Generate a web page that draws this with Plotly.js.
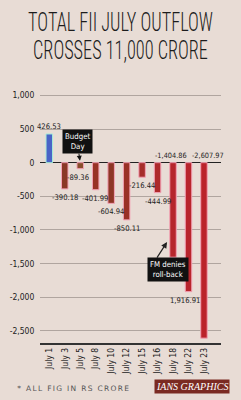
<!DOCTYPE html>
<html><head><meta charset="utf-8">
<script src="https://cdn.plot.ly/plotly-3.0.1.min.js"></script>
<style>html,body{margin:0;padding:0;background:#e8dcd5;}#chart{width:241px;height:400px;}
.main-svg text{font-stretch:condensed;}</style>
</head><body><div id="chart"></div>
<script>
const dates = ["July 1","July 3","July 5","July 8","July 10","July 12","July 15","July 16","July 18","July 22","July 23"];
const outflow = [426.53,-390.18,-89.36,-401.99,-604.94,-850.11,-216.44,-444.99,-1404.86,-1916.91,-2607.97];
const valueLabels = ["426.53","-390.18","-89.36","-401.99","-604.94","-850.11","-216.44","-444.99","-1,404.86","1,916.91","-2,607.97"];
const yTickVals = [1000,500,0,-500,-1000,-1500,-2000,-2500];
const yTickText = ["1,000","500","0","-500","-1,000","-1,500","-2,000","-2,500"];

// styling (not data)
const barColors = ["#4a63c6","#8a3826","#8a4e2c","#983226","#8e3626","#9a3127","#a62e2b","#ae2a2c","#b6262c","#b8252c","#bb232b"];
const lineColors = ["#a6ecd8","#f3a3b6","#f3a3b6","#f3a3b6","#f3a3b6","#f3a3b6","#f3a3b6","#f3a3b6","#f3a3b6","#f3a3b6","#f3a3b6"];
const labelPlace = ["end","end","end","end","end","end","end","end","top","end","top"];
const labelXShift = [0,0,-2,-1,0,0,0,0,-2,-4,4];

const narrow = "DejaVu Sans Condensed, DejaVu Sans, sans-serif";

const annotations = dates.map((d,i)=>{
  const v = outflow[i];
  if (labelPlace[i] === "top") {
    return {x:d, y:0, xref:'x', yref:'y', text:valueLabels[i], showarrow:false,
      yanchor:'bottom', yshift:1, xshift:labelXShift[i], font:{family:narrow,size:7.3,color:'#222'}};
  }
  return {x:d, y:v, xref:'x', yref:'y', text:valueLabels[i], showarrow:false,
    yanchor: v>=0 ? 'bottom':'top', yshift: v>=0 ? 1 : -2, xshift:labelXShift[i],
    font:{family:narrow,size:7.6,color:'#222'}};
});

annotations.push({x:dates[2], y:0, xref:'x', yref:'y', text:"Budget<br>Day", showarrow:true,
  arrowhead:2, arrowsize:1, arrowwidth:1, arrowcolor:'#111', ax:-3, ay:-21, standoff:2,
  bgcolor:'#111', borderpad:2, font:{family:narrow,size:7.8,color:'#fff'}});
annotations.push({x:dates[8], y:-1180, xref:'x', yref:'y', text:"", showarrow:true,
  arrowhead:2, arrowsize:1, arrowwidth:1.2, arrowcolor:'#222', ax:-11, ay:17, xshift:-6});
annotations.push({x:dates[8], y:-1590, xref:'x', yref:'y', text:"FM denies<br>roll-back", showarrow:false,
  bgcolor:'#111', borderpad:2, xshift:-5, yanchor:'middle', font:{family:narrow,size:7.8,color:'#fff'}});

annotations.push({x:-0.13, y:-0.178, xref:'paper', yref:'paper', xanchor:'left', yanchor:'middle', showarrow:false,
  xshift:13, text:"* ALL FIG IN RS CRORE", font:{family:"DejaVu Sans, sans-serif", size:7.5, color:'#555'}});
annotations.push({x:1.05, y:-0.17, xref:'paper', yref:'paper', xanchor:'right', yanchor:'middle', showarrow:false,
  text:"<i>IANS GRAPHICS</i>", bgcolor:'#7b2a22', borderpad:1,
  font:{family:"Liberation Serif, DejaVu Serif, serif", size:10, color:'#fff'}});

const trace = {
  type:'bar', x:dates, y:outflow, width:0.42,
  marker:{color:barColors, line:{color:lineColors, width:1}},
  hoverinfo:'none'
};

const layout = {
  width:241, height:400,
  paper_bgcolor:'#e8dcd5', plot_bgcolor:'#e8dcd5',
  margin:{l:40, r:20, t:90, b:57},
  showlegend:false,
  title:{text:"TOTAL FII JULY OUTFLOW<br>CROSSES 11,000 CRORE", x:0.5, xanchor:'center', y:0.99, yanchor:'top',
    font:{family:"Roboto, sans-serif", size:25, weight:300, color:'#1c1c1c'}},
  xaxis:{type:'category', range:[-0.6,11.1], tickangle:-90, showline:true, linecolor:'#333', linewidth:1.5,
    ticks:'', tickfont:{family:narrow,size:8.5,color:'#222'}, showgrid:false, zeroline:false, fixedrange:true},
  yaxis:{range:[-2680,1080], tickvals:yTickVals, ticktext:yTickText, showgrid:true, gridcolor:'#b0a59f', gridwidth:1,
    zeroline:true, zerolinecolor:'#222', zerolinewidth:1.5, ticks:'outside', ticklen:3, tickcolor:'rgba(0,0,0,0)',
    tickfont:{family:narrow,size:8.5,color:'#222'}, showline:false, fixedrange:true},
  annotations:annotations,
  bargap:0.5
};

Plotly.newPlot('chart',[trace],layout,{displayModeBar:false, staticPlot:true}).then(gd=>{
  const t = gd.querySelector('.gtitle');
  if (t) {
    const cx = 120.5;
    t.setAttribute('x', cx);
    t.setAttribute('y', 31);
    const spans = t.querySelectorAll('tspan.line');
    spans.forEach((s,i)=>{ s.setAttribute('x', cx); s.setAttribute('dy', i===0 ? '0' : '28'); s.removeAttribute('y'); });
    const w = spans.length ? spans[0].getComputedTextLength() : t.getComputedTextLength();
    const s = 185 / w;
    t.setAttribute('transform', `translate(${cx},0) scale(${s},1) translate(${-cx},0)`);
  }
  gd.querySelectorAll('.annotation-text').forEach(el=>{
    if (el.textContent.startsWith('*')) {
      el.style.fontStretch = 'normal';
      el.style.letterSpacing = '1.3px';
    }
  });
});
</script></body></html>
